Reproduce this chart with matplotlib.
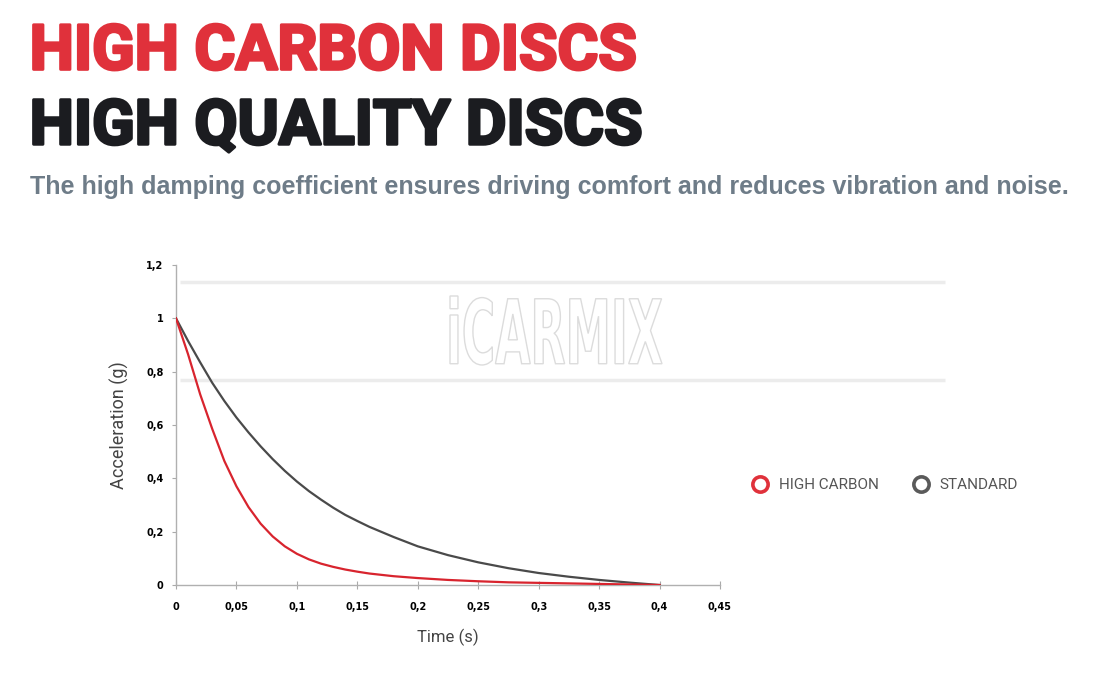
import matplotlib
matplotlib.use("Agg")
import matplotlib.pyplot as plt
import matplotlib.patheffects as pe
from matplotlib.lines import Line2D
from matplotlib.patches import PathPatch
from matplotlib.textpath import TextPath
from matplotlib.font_manager import FontProperties
from matplotlib.transforms import Affine2D

# ---------------------------------------------------------------------------
# Data
# ---------------------------------------------------------------------------
t_carbon = [0.0, 0.01, 0.02, 0.03, 0.04, 0.05, 0.06, 0.07, 0.08, 0.09, 0.10,
            0.11, 0.12, 0.13, 0.14, 0.15, 0.16, 0.18, 0.20, 0.225, 0.25, 0.275,
            0.30, 0.35, 0.40]
acc_carbon = [1.0, 0.865, 0.715, 0.585, 0.465, 0.37, 0.292, 0.23, 0.182, 0.145,
              0.117, 0.096, 0.08, 0.068, 0.058, 0.05, 0.043, 0.033, 0.026, 0.019,
              0.014, 0.01, 0.008, 0.004, 0.0]

t_standard = [0.0, 0.01, 0.02, 0.03, 0.04, 0.05, 0.06, 0.07, 0.08, 0.09, 0.10,
              0.11, 0.12, 0.13, 0.14, 0.15, 0.16, 0.18, 0.20, 0.225, 0.25, 0.275,
              0.30, 0.325, 0.35, 0.375, 0.40]
acc_standard = [1.0, 0.915, 0.835, 0.758, 0.69, 0.628, 0.572, 0.52, 0.472, 0.428,
                0.388, 0.352, 0.32, 0.29, 0.263, 0.24, 0.218, 0.18, 0.145, 0.112,
                0.085, 0.063, 0.045, 0.031, 0.019, 0.009, 0.0]

x_ticks = [0, 0.05, 0.1, 0.15, 0.2, 0.25, 0.3, 0.35, 0.4, 0.45]
y_ticks = [0, 0.2, 0.4, 0.6, 0.8, 1.0, 1.2]
series_names = ["HIGH CARBON", "STANDARD"]

RED = "#e0313b"
DARK = "#1b1c20"
SLATE = "#6e7c88"
CARBON_LINE = "#d8242e"
STD_LINE = "#4a4a4a"

HEAVY = ["Roboto", "DejaVu Sans"]
HELV = ["Liberation Sans", "DejaVu Sans"]

fig = plt.figure(figsize=(11, 7), dpi=100)
fig.patch.set_facecolor("white")

# headings (stroke thickens the bold face towards the heavy original)
fig.text(0.027, 0.901, "HIGH CARBON DISCS", color=RED, fontsize=45,
         fontweight="bold", family=HEAVY, va="baseline",
         path_effects=[pe.withStroke(linewidth=2.2, foreground=RED)])
fig.text(0.027, 0.794, "HIGH QUALITY DISCS", color=DARK, fontsize=45,
         fontweight="bold", family=HEAVY, va="baseline",
         path_effects=[pe.withStroke(linewidth=2.2, foreground=DARK)])
fig.text(0.027, 0.723,
         "The high damping coefficient ensures driving comfort and reduces vibration and noise.",
         color=SLATE, fontsize=18, fontweight="bold", family=HELV, va="baseline")

# watermark bands + outlined logo
for ypx in (282, 380):
    fig.add_artist(Line2D([180 / 1100, 945 / 1100], [1 - ypx / 700] * 2,
                          transform=fig.transFigure, color="#ececec", lw=2.5,
                          solid_capstyle="butt", zorder=0))
tp = TextPath((0, 0), "iCARMIX", size=1,
              prop=FontProperties(family="DejaVu Sans", weight="bold"))
ext = tp.get_extents()
sx = 2.12 / ext.width
sy = 0.69 / ext.height
tr = (Affine2D().translate(-ext.x0, -ext.y0).scale(sx, sy).translate(4.50, 3.35)
      + fig.dpi_scale_trans)
fig.add_artist(PathPatch(tp, transform=tr, facecolor="none", edgecolor="#dcdcdc",
                         lw=1.0, zorder=0))

# chart
ax = fig.add_axes([176 / 1100, 1 - 585 / 700, (720 - 176) / 1100, (585 - 265) / 700])
ax.set_facecolor("none")
ax.plot(t_standard, acc_standard, color=STD_LINE, lw=1.6, zorder=3)
ax.plot(t_carbon, acc_carbon, color=CARBON_LINE, lw=1.6, zorder=4)

ax.set_xlim(0, 0.45)
ax.set_ylim(0, 1.2)
ax.set_xticks(x_ticks)
ax.set_yticks(y_ticks)
ax.set_xticklabels([f"{v:g}".replace(".", ",") for v in x_ticks])
ax.set_yticklabels([f"{v:g}".replace(".", ",") for v in y_ticks])
for lab in ax.get_xticklabels() + ax.get_yticklabels():
    lab.set_fontweight("bold")
    lab.set_fontsize(7)
    lab.set_family(["DejaVu Sans"])
ax.tick_params(axis="x", direction="inout", length=6, color="#aaaaaa", pad=9)
ax.tick_params(axis="y", direction="out", length=3, color="#aaaaaa", pad=6)
for sp in ("top", "right"):
    ax.spines[sp].set_visible(False)
for sp in ("left", "bottom"):
    ax.spines[sp].set_color("#b0b0b0")
    ax.spines[sp].set_linewidth(1.0)

ax.set_xlabel("Time (s)", fontsize=12, color="#444444", family=HEAVY, labelpad=12)
ax.set_ylabel("Acceleration (g)", fontsize=13, color="#444444", family=HEAVY,
              labelpad=12)

# legend with open rings
handles = [Line2D([], [], ls="none", marker="o", ms=11, mfc="white", mec=c, mew=2.6)
           for c in (RED, "#5a5a5a")]
leg = fig.legend(handles, series_names, loc="center left",
                 bbox_to_anchor=(739 / 1100, 1 - 485 / 700), ncol=2, frameon=False,
                 handlelength=1.0, handletextpad=0.75, columnspacing=2.2,
                 prop=FontProperties(family=HEAVY, size=11))
for txt in leg.get_texts():
    txt.set_color("#555555")

fig.savefig("out.png", dpi=100, facecolor="white")
